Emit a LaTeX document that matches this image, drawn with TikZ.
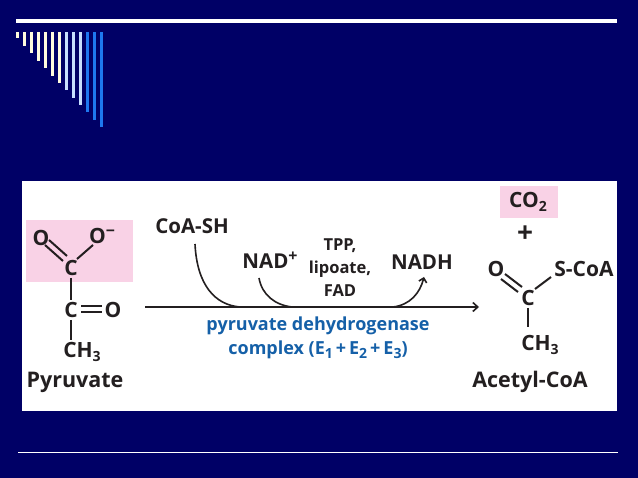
\documentclass[tikz,border=0pt]{standalone}
\usepackage{fontspec}
\usetikzlibrary{arrows.meta}
\setmainfont{Open Sans}
\definecolor{navy}{HTML}{000066}
\definecolor{cream}{HTML}{FFFBDD}
\definecolor{lblue}{HTML}{C8E0FF}
\definecolor{mblue}{HTML}{1E78F0}
\definecolor{pinkbg}{HTML}{F9D2E6}
\definecolor{ink}{HTML}{231F20}
\definecolor{tblue}{HTML}{1560A8}
\newcommand{\sps}[1]{\raisebox{0.6ex}{\fontsize{16}{16}\selectfont #1}}
\newcommand{\sbs}[1]{\raisebox{-0.35ex}{\fontsize{14}{14}\selectfont #1}}
\begin{document}
\begin{tikzpicture}[x=1pt,y=-1pt,
  atom/.style={font=\bfseries\fontsize{21}{24}\selectfont,text=ink,inner sep=0pt},
  lbl/.style={font=\bfseries\fontsize{20.5}{22}\selectfont,text=ink,inner sep=0pt},
  small/.style={font=\bfseries\fontsize{16.5}{23}\selectfont,text=ink,inner sep=0pt,align=center},
  blu/.style={font=\bfseries\fontsize{18}{24}\selectfont,text=tblue,inner sep=0pt,align=center},
  big/.style={font=\bfseries\fontsize{21.5}{28}\selectfont,text=ink,inner sep=0pt},
  bond/.style={ink,line width=2pt},
  curv/.style={ink,line width=1.6pt}]
\fill[navy] (0,0) rectangle (638,478);
\useasboundingbox (0,0) rectangle (638,478);
\fill[white] (16,19) rectangle (617,23);
\foreach \i/\b/\c in {0/38/cream,1/46/cream,2/53/cream,3/61/cream,4/68/cream,5/76/cream,6/83/cream,7/90/lblue,8/98/lblue,9/105/lblue,10/112/mblue,11/120/mblue,12/127/mblue}
  \fill[\c] (16+7*\i,32) rectangle (19+7*\i,\b);
\fill[white] (22,181) rectangle (617,411);
\draw[white,line width=0.6pt] (18,452) -- (618,452);
% pyruvate
\fill[pinkbg] (26,220) rectangle (133,282);
\node[atom] (o1) at (41,238) {O};
\node[atom] (o2) at (102,236) {O\sps{\textminus}};
\node[atom] (c1) at (71,268) {C};
\node[atom] (c2) at (71,310) {C};
\node[atom] (o3) at (113,310) {O};
\node[atom] (me) at (82,352) {CH\sbs{3}};
\node[big] (pyr) at (75,382) {Pyruvate};
\draw[bond] (45,245) -- (63,261);
\draw[bond] (49,240) -- (67,256);
\draw[bond] (77,259) -- (93,245);
\draw[bond] (71,278) -- (71,300);
\draw[bond] (81,306) -- (102,306);
\draw[bond] (81,312) -- (102,312);
\draw[bond] (71,320) -- (71,340);
% arrow
\coordinate (a0) at (145,307);
\coordinate (a1) at (479,307);
\draw[curv,-{Straight Barb[length=5pt,width=9pt]}] (a0) -- (a1);
\node[lbl] (coa) at (192,226) {CoA-SH};
\node[lbl] (nad) at (270,260) {NAD\sps{+}};
\node[small] (cof) at (340,268) {TPP,\\lipoate,\\FAD};
\node[lbl] (nadh) at (422,262) {NADH};
\draw[curv] (195,244) .. controls (197,285) and (215,305) .. (240,307);
\draw[curv] (259,278) .. controls (262,295) and (275,305) .. (292,307);
\draw[curv,-{Straight Barb[length=4pt,width=8pt]}] (393,307) .. controls (410,305) and (420,293) .. (424,277);
\node[blu] (enz) at (318,338) {pyruvate dehydrogenase\\complex (E\sbs{1}\,+\,E\sbs{2}\,+\,E\sbs{3})};
% acetyl-CoA
\fill[pinkbg] (500,186) rectangle (558,218);
\node[atom] (co2) at (528,202) {CO\sbs{2}};
\node[atom,font=\bfseries\fontsize{28}{28}\selectfont] (plus) at (525,234) {+};
\node[atom] (o4) at (496,269) {O};
\node[atom] (s) at (584,269) {S-CoA};
\node[atom] (c3) at (528,298) {C};
\node[atom] (me2) at (540,345) {CH\sbs{3}};
\node[big] (ac) at (530,382) {Acetyl-CoA};
\draw[bond] (501,279) -- (518,292);
\draw[bond] (505,274) -- (522,287);
\draw[bond] (535,289) -- (551,277);
\draw[bond] (528,308) -- (528,327);
\end{tikzpicture}
\end{document}
